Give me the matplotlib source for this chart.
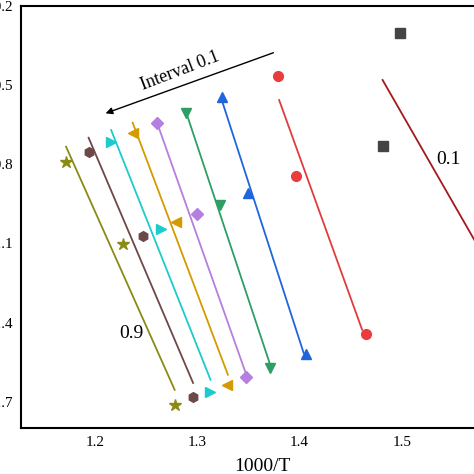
import matplotlib
matplotlib.use('Agg')
import matplotlib.pyplot as plt

plt.rcParams['font.family'] = ['Liberation Serif', 'DejaVu Serif']

# markers per series: x, y
names = ['0.1', '0.2', '0.3', '0.4', '0.5', '0.6', '0.7', '0.8', '0.9']
ptX = [[1.498, 1.481], [1.379, 1.396, 1.465], [1.324, 1.350, 1.406], [1.289, 1.322, 1.371],
       [1.261, 1.300, 1.348], [1.237, 1.279, 1.329], [1.216, 1.265, 1.313],
       [1.194, 1.247, 1.296], [1.172, 1.228, 1.278]]
ptY = [[-0.30, -0.73], [-0.464, -0.844, -1.442], [-0.543, -0.907, -1.519], [-0.604, -0.956, -1.574],
       [-0.642, -0.988, -1.608], [-0.682, -1.017, -1.636], [-0.715, -1.045, -1.663],
       [-0.752, -1.070, -1.684], [-0.790, -1.102, -1.711]]
# fitted line end points
lineX = [[1.481, 1.577], [1.380, 1.461], [1.324, 1.404], [1.289, 1.371], [1.261, 1.348],
         [1.237, 1.330], [1.216, 1.313], [1.194, 1.296], [1.172, 1.278]]
lineY = [[-0.48, -1.13], [-0.556, -1.427], [-0.556, -1.516], [-0.600, -1.557], [-0.644, -1.598],
         [-0.642, -1.598], [-0.670, -1.617], [-0.699, -1.629], [-0.733, -1.655]]
markers = ['s', 'o', '^', 'v', 'D', '<', '>', 'h', '*']
ptColors = ['#444444', '#ec3b3b', '#1f66dd', '#2e9e63', '#b57ee0', '#d49a00', '#1ccbcb', '#6e4848', '#8a8a16']
lineColors = ['#a3191c', '#e03c3c', '#1f66dd', '#2e9e63', '#b57ee0', '#d49a00', '#1ccbcb', '#6e4848', '#8a8a16']

fig = plt.figure(figsize=(4.74, 4.74), dpi=100)
ax = fig.add_axes([0.0443, 0.097, 1.02, 0.89])

for i in range(len(names)):
    ax.plot(lineX[i], lineY[i], color=lineColors[i], lw=1.3)
    ms = 9 if markers[i] == '*' else 7
    if markers[i] == 'D':
        ms = 6
    ax.plot(ptX[i], ptY[i], ls='none', marker=markers[i], color=ptColors[i], ms=ms)

ax.annotate('', xy=(1.208, -0.610), xytext=(1.377, -0.373),
            arrowprops=dict(arrowstyle='-|>', color='black', lw=1))
ax.text(1.283, -0.446, 'Interval 0.1', rotation=21, ha='center', va='center', fontsize=13)
ax.text(1.545, -0.78, '0.1', ha='center', va='center', fontsize=14)
ax.text(1.236, -1.44, '0.9', ha='center', va='center', fontsize=14)

ax.set_xlim(1.128, 1.6)
ax.set_ylim(-1.8, -0.2)
ax.set_xticks([1.2, 1.3, 1.4, 1.5])
ax.set_yticks([-0.2, -0.5, -0.8, -1.1, -1.4, -1.7])
ax.tick_params(labelsize=11, length=0, pad=6)
for s in ax.spines.values():
    s.set_linewidth(1.5)
ax.set_xlabel('1000/T', fontsize=14, labelpad=6)

fig.savefig('out.png', dpi=100)
